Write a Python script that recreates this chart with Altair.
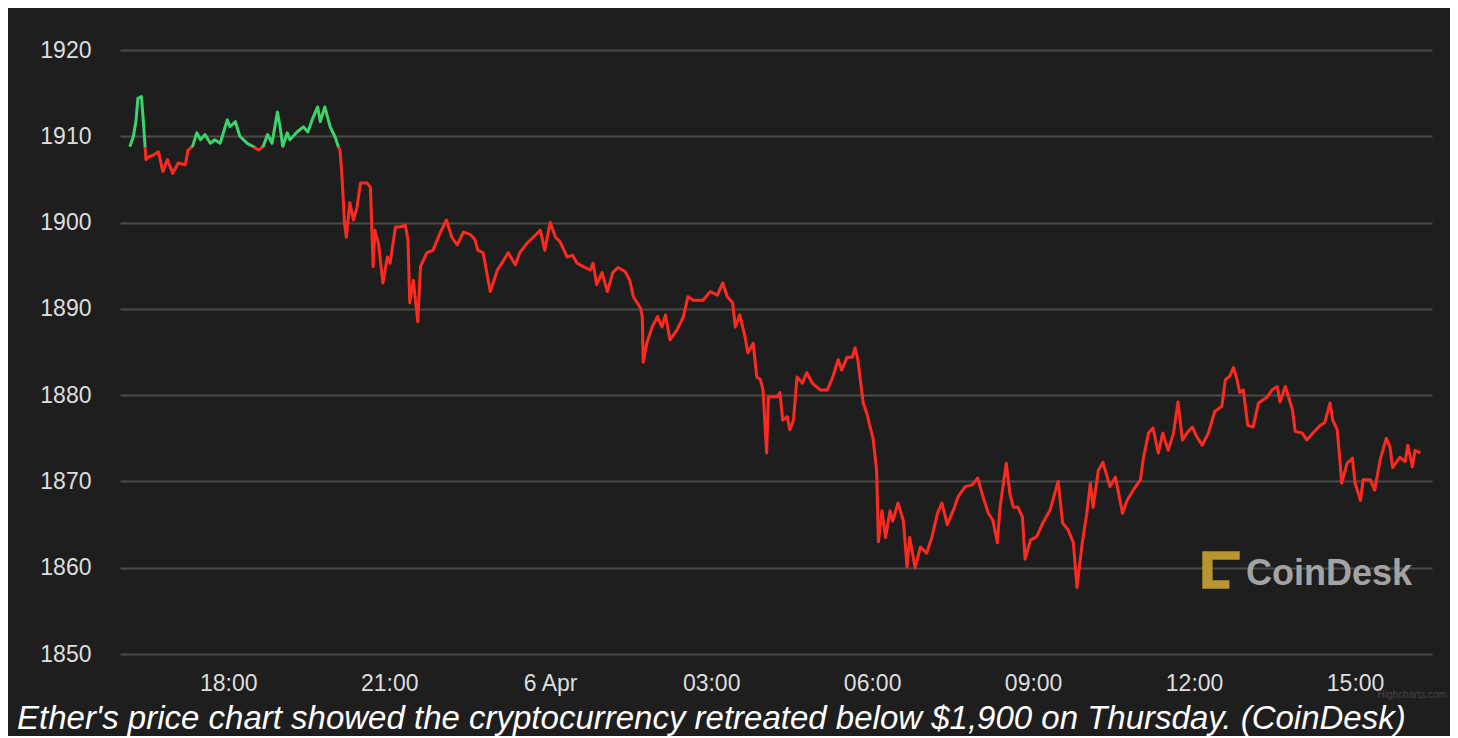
import altair as alt
import pandas as pd

# minutes after 2023-04-05 16:00 (local) and ETH price in USD
minutes = [
    10, 14, 17, 19, 23, 25, 26, 28, 31, 36, 42, 47, 52, 58, 64, 72, 75, 80, 85, 89,
    94, 100, 105, 111, 119, 122, 128, 133, 141, 148, 154, 159, 164, 169, 175, 178, 181, 186, 189, 197,
    204, 209, 215, 220, 223, 228, 234, 240, 243, 245, 247, 250, 252, 256, 260, 264, 268, 275, 279, 282,
    284, 288, 293, 298, 301, 307, 312, 318, 321, 323, 327, 332, 335, 342, 349, 357, 364, 370, 376, 383,
    391, 396, 399, 405, 413, 421, 426, 433, 441, 446, 454, 461, 469, 474, 480, 486, 491, 499, 505, 510,
    517, 525, 528, 532, 538, 544, 550, 556, 564, 569, 573, 581, 583, 584, 588, 594, 600, 605, 609, 614,
    622, 629, 634, 640, 651, 659, 667, 673, 678, 684, 687, 692, 698, 701, 707, 711, 715, 718, 722, 724,
    734, 737, 740, 745, 748, 752, 756, 762, 767, 773, 782, 790, 796, 802, 806, 812, 818, 821, 824, 830,
    834, 838, 841, 845, 846, 847, 851, 855, 860, 863, 869, 875, 879, 882, 888, 894, 901, 907, 913, 918,
    924, 931, 936, 944, 952, 958, 964, 970, 975, 980, 983, 990, 994, 998, 1003, 1008, 1011, 1017, 1024, 1031,
    1039, 1048, 1053, 1059, 1065, 1069, 1075, 1080, 1084, 1087, 1093, 1098, 1106, 1112, 1120, 1125, 1132, 1140, 1143, 1149,
    1154, 1160, 1165, 1171, 1177, 1182, 1187, 1192, 1198, 1203, 1209, 1216, 1223, 1231, 1235, 1240, 1244, 1248, 1251, 1255,
    1260, 1266, 1272, 1282, 1287, 1293, 1296, 1302, 1310, 1313, 1321, 1326, 1333, 1341, 1346, 1352, 1355, 1360, 1363, 1365,
    1371, 1377, 1380, 1386, 1389, 1397, 1402, 1408, 1415, 1419, 1422, 1430, 1436, 1439, 1444, 1447, 1453,
]
prices = [
    1908.8, 1910.0, 1911.9, 1914.4, 1914.6, 1911.9, 1910.4, 1907.3, 1907.6, 1907.8, 1908.2, 1905.9, 1907.3, 1905.7, 1906.9, 1906.7, 1908.4, 1908.8, 1910.4, 1909.6,
    1910.2, 1909.2, 1909.6, 1909.2, 1911.9, 1911.1, 1911.7, 1910.0, 1909.2, 1908.8, 1908.4, 1908.8, 1910.2, 1909.2, 1912.8, 1911.1, 1908.8, 1910.4, 1909.6, 1910.5,
    1911.1, 1910.5, 1912.2, 1913.4, 1911.7, 1913.4, 1911.1, 1909.8, 1908.8, 1908.4, 1905.7, 1900.0, 1898.3, 1902.3, 1900.3, 1901.8, 1904.6, 1904.6, 1904.1, 1894.9,
    1899.1, 1897.6, 1893.0, 1896.0, 1895.3, 1899.5, 1899.5, 1899.7, 1898.0, 1890.7, 1893.3, 1888.5, 1894.9, 1896.5, 1896.8, 1898.8, 1900.3, 1898.3, 1897.4, 1898.9,
    1898.6, 1898.0, 1896.8, 1896.5, 1892.0, 1894.5, 1895.3, 1896.5, 1895.1, 1896.5, 1897.6, 1898.3, 1899.1, 1896.8, 1900.0, 1898.3, 1897.8, 1896.0, 1896.2, 1895.3,
    1894.9, 1894.5, 1895.3, 1892.8, 1894.2, 1892.0, 1894.2, 1894.8, 1894.3, 1893.3, 1891.4, 1890.1, 1889.1, 1883.8, 1886.0, 1887.9, 1889.1, 1887.9, 1889.3, 1886.4,
    1887.6, 1889.1, 1891.4, 1891.0, 1891.0, 1892.0, 1891.6, 1893.0, 1891.4, 1890.7, 1887.9, 1889.3, 1886.7, 1884.9, 1886.0, 1882.1, 1881.8, 1880.6, 1873.3, 1879.8,
    1879.8, 1880.3, 1877.1, 1877.5, 1876.0, 1877.1, 1882.1, 1881.4, 1882.6, 1881.4, 1880.6, 1880.6, 1882.1, 1884.1, 1882.9, 1884.4, 1884.4, 1885.5, 1884.1, 1879.1,
    1877.9, 1876.2, 1875.0, 1871.3, 1867.2, 1863.0, 1866.6, 1863.5, 1866.6, 1865.4, 1867.5, 1865.4, 1860.1, 1863.5, 1860.0, 1862.4, 1861.7, 1863.6, 1866.3, 1867.5,
    1865.0, 1866.7, 1868.2, 1869.4, 1869.6, 1870.4, 1868.2, 1866.3, 1865.5, 1862.9, 1867.0, 1872.1, 1868.6, 1867.0, 1867.0, 1865.9, 1861.0, 1863.2, 1863.6, 1865.2,
    1866.7, 1870.0, 1865.2, 1864.4, 1862.9, 1857.7, 1862.9, 1866.3, 1869.8, 1867.0, 1871.3, 1872.2, 1869.4, 1870.5, 1866.3, 1867.8, 1869.0, 1870.2, 1872.5, 1875.6,
    1876.2, 1873.3, 1875.6, 1873.6, 1875.6, 1879.2, 1874.8, 1875.6, 1876.3, 1875.2, 1874.2, 1875.6, 1878.1, 1878.7, 1881.8, 1882.2, 1883.2, 1881.8, 1880.3, 1880.6,
    1876.5, 1876.3, 1879.1, 1879.8, 1880.6, 1881.0, 1879.2, 1881.0, 1878.3, 1875.8, 1875.6, 1874.8, 1875.6, 1876.5, 1876.8, 1879.1, 1877.1, 1876.0, 1872.5, 1869.8,
    1872.1, 1872.7, 1869.8, 1867.8, 1870.2, 1870.2, 1869.0, 1872.5, 1875.0, 1874.0, 1871.6, 1872.8, 1872.3, 1874.2, 1871.7, 1873.6, 1873.3,
]
y_ticks = [1850, 1860, 1870, 1880, 1890, 1900, 1910, 1920]
x_tick_hours = [18, 21, 24, 27, 30, 33, 36, 39]  # hours after 2023-04-05 00:00
caption = "Ether's price chart showed the cryptocurrency retreated below $1,900 on Thursday. (CoinDesk)"

base = pd.Timestamp("2023-04-05 16:00")
df = pd.DataFrame({
    "time": [(base + pd.Timedelta(minutes=m)).strftime("%Y-%m-%dT%H:%M:%S") for m in minutes],
    "price": prices,
})

def dt(ts):
    return alt.DateTime(year=ts.year, month=ts.month, date=ts.day, hours=ts.hour, minutes=ts.minute)

day0 = pd.Timestamp("2023-04-05 00:00")
x_values = [dt(day0 + pd.Timedelta(hours=h)) for h in x_tick_hours]
x_domain = [dt(base + pd.Timedelta(minutes=-1)), dt(base + pd.Timedelta(minutes=1466))]

GREEN = "#3cd36a"
RED = "#ff2a1f"
threshold = prices[0]
pmax, pmin = max(prices), min(prices)
off = (pmax - threshold) / (pmax - pmin)

W, H = 1312, 604

line = alt.Chart(df).mark_line(
    strokeWidth=3,
    strokeJoin="round",
    stroke=alt.Gradient(
        gradient="linear",
        stops=[
            alt.GradientStop(color=GREEN, offset=0),
            alt.GradientStop(color=GREEN, offset=off),
            alt.GradientStop(color=RED, offset=off),
            alt.GradientStop(color=RED, offset=1),
        ],
        x1=0, x2=0, y1=0, y2=1,
    ),
).encode(
    x=alt.X("time:T", scale=alt.Scale(domain=x_domain),
            axis=alt.Axis(values=x_values, title=None, grid=False, domain=False, ticks=False,
                          labelExpr="hours(datum.value) == 0 ? timeFormat(datum.value, '%-d %b') : timeFormat(datum.value, '%H:%M')",
                          labelFont="Liberation Sans", labelFontSize=23, labelColor="#dedede",
                          labelPadding=18, labelFlush=False)),
    y=alt.Y("price:Q", scale=alt.Scale(domain=[1850, 1920], nice=False, zero=False),
            axis=alt.Axis(values=y_ticks, title=None, domain=False, ticks=False, grid=True,
                          gridColor="#4a4a4a", gridWidth=1.8, format="d",
                          labelFont="Liberation Sans", labelFontSize=23, labelColor="#dedede",
                          labelPadding=29)),
)

one = pd.DataFrame({"t": [caption]})

cap = alt.Chart(one).mark_text(
    align="left", baseline="alphabetic", font="Liberation Sans", fontStyle="italic",
    fontSize=33, color="#ffffff",
).encode(x=alt.value(-103), y=alt.value(679), text="t:N")

logo_icon = alt.Chart(one).mark_point(
    shape="M -1 -1 L 1 -1 L 1 -0.55 L -0.45 -0.55 L -0.45 0.55 L 0.45 0.55 L 0.45 1 L -1 1 Z",
    filled=True, color="#b8952f", size=1400, opacity=1,
).encode(x=alt.value(1101), y=alt.value(520))

logo_text = alt.Chart(pd.DataFrame({"t": ["CoinDesk"]})).mark_text(
    align="left", baseline="alphabetic", font="Liberation Sans", fontWeight="bold",
    fontSize=36, color="#a3a3a3",
).encode(x=alt.value(1126), y=alt.value(535), text="t:N")

credit = alt.Chart(pd.DataFrame({"t": ["Highcharts.com"]})).mark_text(
    align="right", baseline="alphabetic", font="Liberation Sans", fontSize=10, color="#444444",
).encode(x=alt.value(1327), y=alt.value(648), text="t:N")

chart = alt.layer(line, logo_icon, logo_text, credit, cap).properties(
    width=W, height=H,
    background="#1e1e1e",
    padding={"left": 112, "top": 42, "right": 18, "bottom": 82},
    autosize=alt.AutoSizeParams(type="none"),
).configure_view(stroke=None)

chart.save("out.html", embed_options={"renderer": "svg", "actions": False})
